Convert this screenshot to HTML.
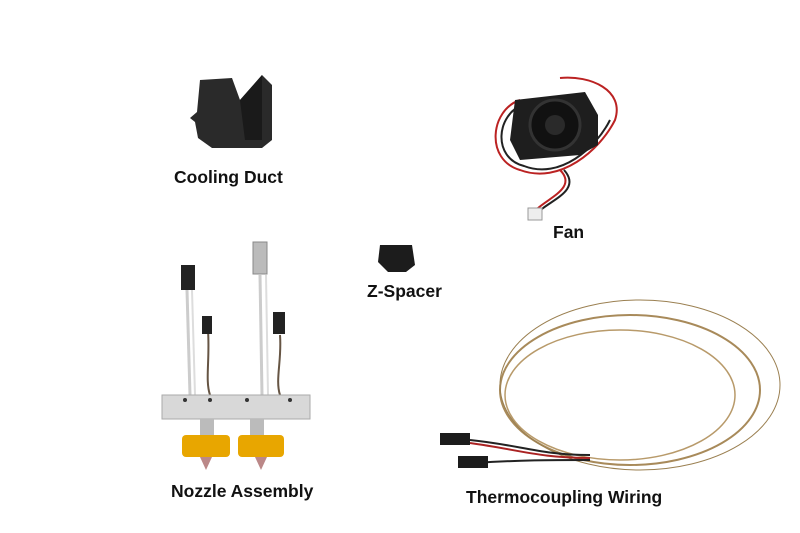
<!DOCTYPE html>
<html><head><meta charset="utf-8"><style>
html,body{margin:0;padding:0;background:#fff;}
.w{position:relative;width:800px;height:533px;overflow:hidden;background:#fff;}
.l{position:absolute;font-family:"Liberation Sans",sans-serif;font-weight:bold;font-size:17.5px;color:#111;white-space:nowrap;}
svg{position:absolute;left:0;top:0;}
</style></head><body><div class="w">
<svg width="800" height="533" viewBox="0 0 800 533">
<polygon points="200,80 232,78 240,100 262,75 272,85 272,140 262,148 212,148 198,138 195,122 190,118 197,112" fill="#2a2a2a"/>
<polygon points="240,100 262,75 262,140 245,140" fill="#1a1a1a"/>
<path d="M520,100 C490,110 485,160 520,170 C560,185 600,150 615,120 C625,90 590,75 560,78" fill="none" stroke="#b22" stroke-width="2"/>
<path d="M524,104 C496,114 492,158 524,166 C560,180 596,148 610,120" fill="none" stroke="#222" stroke-width="2"/>
<path d="M560,170 C580,190 540,200 532,215" fill="none" stroke="#b22" stroke-width="2"/>
<path d="M564,170 C584,192 544,202 536,215" fill="none" stroke="#222" stroke-width="2"/>
<rect x="528" y="208" width="14" height="12" fill="#eee" stroke="#999"/>
<polygon points="515,100 585,92 598,115 598,145 580,155 520,160 510,140" fill="#1e1e1e"/>
<circle cx="555" cy="125" r="25" fill="#111" stroke="#333" stroke-width="3"/>
<circle cx="555" cy="125" r="10" fill="#2a2a2a"/>
<polygon points="380,245 412,245 415,265 406,272 388,272 378,262" fill="#1c1c1c"/>
<line x1="187" y1="290" x2="190" y2="395" stroke="#ccc" stroke-width="3"/>
<line x1="192" y1="290" x2="195" y2="395" stroke="#ddd" stroke-width="2"/>
<rect x="181" y="265" width="14" height="25" fill="#222"/>
<line x1="260" y1="275" x2="262" y2="395" stroke="#ccc" stroke-width="3"/>
<line x1="266" y1="275" x2="268" y2="395" stroke="#ddd" stroke-width="2"/>
<rect x="253" y="242" width="14" height="32" fill="#bbb" stroke="#888"/>
<path d="M208,330 C210,360 205,380 210,395" stroke="#654" stroke-width="2" fill="none"/>
<rect x="202" y="316" width="10" height="18" fill="#222"/>
<path d="M280,335 C282,360 275,380 280,395" stroke="#654" stroke-width="2" fill="none"/>
<rect x="273" y="312" width="12" height="22" fill="#222"/>
<rect x="162" y="395" width="148" height="24" fill="#d8d8d8" stroke="#aaa"/>
<circle cx="185" cy="400" r="2" fill="#333"/><circle cx="210" cy="400" r="2" fill="#333"/><circle cx="247" cy="400" r="2" fill="#333"/><circle cx="290" cy="400" r="2" fill="#333"/>
<rect x="200" y="419" width="14" height="18" fill="#bbb"/>
<rect x="250" y="419" width="14" height="18" fill="#bbb"/>
<rect x="182" y="435" width="48" height="22" rx="4" fill="#e8a600"/>
<rect x="238" y="435" width="46" height="22" rx="4" fill="#e8a600"/>
<polygon points="200,457 212,457 206,470" fill="#b88"/>
<polygon points="255,457 267,457 261,470" fill="#b88"/>
<ellipse cx="630" cy="390" rx="130" ry="75" fill="none" stroke="#a88a5a" stroke-width="2"/>
<ellipse cx="620" cy="395" rx="115" ry="65" fill="none" stroke="#b89a6a" stroke-width="1.5"/>
<ellipse cx="640" cy="385" rx="140" ry="85" fill="none" stroke="#9a7f50" stroke-width="1"/>
<path d="M470,440 C520,445 540,455 590,455" stroke="#222" stroke-width="2" fill="none"/>
<path d="M470,443 C520,450 540,458 590,458" stroke="#a22" stroke-width="2" fill="none"/>
<path d="M475,463 C520,460 550,460 590,460" stroke="#222" stroke-width="2" fill="none"/>
<rect x="440" y="433" width="30" height="12" fill="#1c1c1c"/>
<rect x="458" y="456" width="30" height="12" fill="#1c1c1c"/>
</svg>
<div class="l" style="left:174px;top:167px;">Cooling Duct</div>
<div class="l" style="left:553px;top:222px;">Fan</div>
<div class="l" style="left:367px;top:281px;">Z-Spacer</div>
<div class="l" style="left:171px;top:481px;">Nozzle Assembly</div>
<div class="l" style="left:466px;top:487px;">Thermocoupling Wiring</div>
</div></body></html>
